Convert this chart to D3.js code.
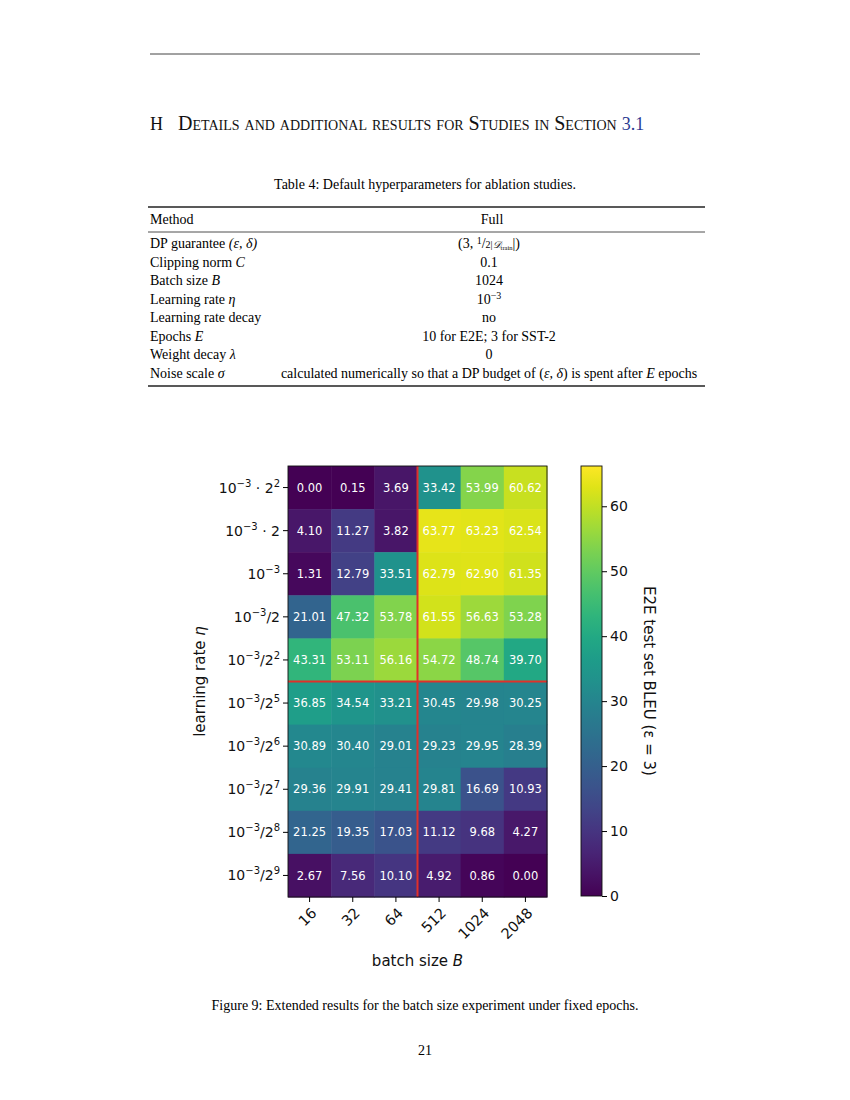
<!DOCTYPE html>
<html>
<head>
<meta charset="utf-8">
<script src="https://cdn.jsdelivr.net/npm/d3@7/dist/d3.min.js"></script>
<style>
  body { margin: 0; background: #fff; }
</style>
</head>
<body>
<script>
// ---- data ----
const batchSizes = ['16', '32', '64', '512', '1024', '2048'];
// learning rate labels: 10^-3 followed by op and an optional exponent
const lrLabels = [
    { op: ' · 2', exp: '2' },
    { op: ' · 2', exp: '' },
    { op: '', exp: '' },
    { op: '/2', exp: '' },
    { op: '/2', exp: '2' },
    { op: '/2', exp: '5' },
    { op: '/2', exp: '6' },
    { op: '/2', exp: '7' },
    { op: '/2', exp: '8' },
    { op: '/2', exp: '9' }
];
const bleu = [
    [0.00, 0.15, 3.69, 33.42, 53.99, 60.62],
    [4.10, 11.27, 3.82, 63.77, 63.23, 62.54],
    [1.31, 12.79, 33.51, 62.79, 62.90, 61.35],
    [21.01, 47.32, 53.78, 61.55, 56.63, 53.28],
    [43.31, 53.11, 56.16, 54.72, 48.74, 39.70],
    [36.85, 34.54, 33.21, 30.45, 29.98, 30.25],
    [30.89, 30.40, 29.01, 29.23, 29.95, 28.39],
    [29.36, 29.91, 29.41, 29.81, 16.69, 10.93],
    [21.25, 19.35, 17.03, 11.12, 9.68, 4.27],
    [2.67, 7.56, 10.10, 4.92, 0.86, 0.00]
];
const colorTicks = [0, 10, 20, 30, 40, 50, 60];

// table 4
const tableMethods = ['DP guarantee', 'Clipping norm', 'Batch size', 'Learning rate',
    'Learning rate decay', 'Epochs', 'Weight decay', 'Noise scale'];
const tableSymbols = ['(ε, δ)', 'C', 'B', 'η', '', 'E', 'λ', 'σ'];
const tableValues = ['dp', '0.1', '1024', 'lr', 'no', '10 for E2E; 3 for SST-2', '0', 'noise'];

function renderPage() {
    const width = 850, height = 1100;
    const serif = 'Liberation Serif, Times New Roman, serif';
    const sans = 'DejaVu Sans, sans-serif';

    const svg = d3.select('body').append('svg')
        .attr('width', width)
        .attr('height', height);

    // ==================== page header ====================
    svg.append('line')
        .attr('x1', 150).attr('x2', 700)
        .attr('y1', 54).attr('y2', 54)
        .attr('stroke', '#444').attr('stroke-width', 1);

    const head = svg.append('text')
        .attr('x', 150).attr('y', 130)
        .attr('font-family', serif).attr('font-size', 18)
        .attr('fill', '#111');
    head.append('tspan').text('H');
    head.append('tspan').attr('x', 178)
        .attr('font-size', 20)
        .style('font-variant', 'small-caps')
        .text('Details and additional results for Studies in Section ');
    head.append('tspan').attr('fill', '#2b3a91').text('3.1');

    svg.append('text')
        .attr('x', 425).attr('y', 189)
        .attr('text-anchor', 'middle')
        .attr('font-family', serif).attr('font-size', 14)
        .text('Table 4: Default hyperparameters for ablation studies.');

    // ==================== table ====================
    const tx0 = 148, tx1 = 705, valX = 489;
    svg.append('line').attr('x1', tx0).attr('x2', tx1).attr('y1', 207).attr('y2', 207)
        .attr('stroke', '#222').attr('stroke-width', 1.3);
    svg.append('line').attr('x1', tx0).attr('x2', tx1).attr('y1', 232).attr('y2', 232)
        .attr('stroke', '#222').attr('stroke-width', 0.8);
    svg.append('line').attr('x1', tx0).attr('x2', tx1).attr('y1', 386).attr('y2', 386)
        .attr('stroke', '#222').attr('stroke-width', 1.3);

    const tfont = 14;
    svg.append('text').attr('x', 150).attr('y', 224)
        .attr('font-family', serif).attr('font-size', tfont).text('Method');
    svg.append('text').attr('x', 492).attr('y', 224).attr('text-anchor', 'middle')
        .attr('font-family', serif).attr('font-size', tfont).text('Full');

    const rowY = d3.scaleLinear().domain([0, 7]).range([248, 378]);

    tableMethods.forEach((m, i) => {
        const t = svg.append('text').attr('x', 150).attr('y', rowY(i))
            .attr('font-family', serif).attr('font-size', tfont);
        t.append('tspan').text(m + (tableSymbols[i] ? ' ' : ''));
        if (tableSymbols[i]) t.append('tspan').attr('font-style', 'italic').text(tableSymbols[i]);

        const v = svg.append('text').attr('x', valX).attr('y', rowY(i))
            .attr('text-anchor', 'middle')
            .attr('font-family', serif).attr('font-size', tfont);
        const val = tableValues[i];
        if (val === 'dp') {
            v.append('tspan').text('(3, ');
            v.append('tspan').attr('font-size', 10).attr('dy', -4).text('1');
            v.append('tspan').attr('dy', 4).text('/');
            v.append('tspan').attr('font-size', 10).text('2|');
            v.append('tspan').attr('font-size', 10).attr('font-style', 'italic').text('𝒟');
            v.append('tspan').attr('font-size', 6.5).attr('dy', 2).text('train');
            v.append('tspan').attr('dy', -2).text('|)');
        } else if (val === 'lr') {
            v.append('tspan').text('10');
            v.append('tspan').attr('font-size', 10).attr('dy', -5).text('−3');
        } else if (val === 'noise') {
            v.append('tspan').text('calculated numerically so that a DP budget of (');
            v.append('tspan').attr('font-style', 'italic').text('ε, δ');
            v.append('tspan').text(') is spent after ');
            v.append('tspan').attr('font-style', 'italic').text('E');
            v.append('tspan').text(' epochs');
        } else {
            v.text(val);
        }
    });

    // ==================== heatmap ====================
    const hm = { left: 288, right: 547, top: 466, bottom: 897 };

    const x = d3.scaleBand().domain(batchSizes).range([hm.left, hm.right]);
    const y = d3.scaleBand().domain(d3.range(lrLabels.length)).range([hm.top, hm.bottom]);
    const vmax = 66.2;
    const color = d3.scaleSequential(d3.interpolateViridis).domain([0, vmax]);

    const cells = [];
    bleu.forEach((row, r) => row.forEach((v, c) => cells.push({ r, c, v })));

    svg.append('g').selectAll('rect')
        .data(cells).enter().append('rect')
        .attr('x', d => x(batchSizes[d.c]))
        .attr('y', d => y(d.r))
        .attr('width', x.bandwidth() + 0.5)
        .attr('height', y.bandwidth() + 0.5)
        .attr('fill', d => color(d.v));

    svg.append('g').selectAll('text')
        .data(cells).enter().append('text')
        .attr('x', d => x(batchSizes[d.c]) + x.bandwidth() / 2)
        .attr('y', d => y(d.r) + y.bandwidth() / 2)
        .attr('dy', '0.36em')
        .attr('text-anchor', 'middle')
        .attr('font-family', sans).attr('font-size', 11.5)
        .attr('fill', '#fff')
        .text(d => d.v.toFixed(2));

    // red separators
    const splitX = x('512');
    const splitY = y(5);
    svg.append('line').attr('x1', splitX).attr('x2', splitX)
        .attr('y1', hm.top).attr('y2', hm.bottom)
        .attr('stroke', '#e0302a').attr('stroke-width', 2);
    svg.append('line').attr('x1', hm.left).attr('x2', hm.right)
        .attr('y1', splitY).attr('y2', splitY)
        .attr('stroke', '#e0302a').attr('stroke-width', 2);

    svg.append('rect')
        .attr('x', hm.left).attr('y', hm.top)
        .attr('width', hm.right - hm.left).attr('height', hm.bottom - hm.top)
        .attr('fill', 'none').attr('stroke', '#111').attr('stroke-width', 0.9);

    // x axis
    const xAxis = svg.append('g')
        .attr('transform', `translate(0, ${hm.bottom})`)
        .call(d3.axisBottom(x).tickSize(5).tickPadding(3));
    xAxis.select('.domain').remove();
    xAxis.selectAll('text')
        .attr('font-family', sans).attr('font-size', 14.5).attr('fill', '#111')
        .attr('text-anchor', 'end')
        .attr('y', 0).attr('dy', 0)
        .attr('transform', 'translate(8, 17) rotate(-45)');

    // y axis
    const yAxis = svg.append('g')
        .attr('transform', `translate(${hm.left}, 0)`)
        .call(d3.axisLeft(y).tickSize(5).tickPadding(3).tickFormat(''));
    yAxis.select('.domain').remove();
    yAxis.selectAll('.tick').each(function (d) {
        const lab = lrLabels[d];
        const t = d3.select(this).append('text')
            .attr('x', -8).attr('dy', '0.36em')
            .attr('text-anchor', 'end')
            .attr('font-family', sans).attr('font-size', 14).attr('fill', '#111');
        t.append('tspan').text('10');
        t.append('tspan').attr('font-size', 10).attr('dy', -6).text('−3');
        t.append('tspan').attr('dy', 6).text(lab.op);
        if (lab.exp) t.append('tspan').attr('font-size', 10).attr('dy', -6).text(lab.exp);
    });

    svg.append('text')
        .attr('transform', `translate(205, ${(hm.top + hm.bottom) / 2}) rotate(-90)`)
        .attr('text-anchor', 'middle')
        .attr('font-family', sans).attr('font-size', 15).attr('fill', '#111')
        .text('learning rate ')
        .append('tspan').attr('font-style', 'italic').text('η');

    const xl = svg.append('text')
        .attr('x', (hm.left + hm.right) / 2).attr('y', 966)
        .attr('text-anchor', 'middle')
        .attr('font-family', sans).attr('font-size', 15).attr('fill', '#111');
    xl.append('tspan').text('batch size ');
    xl.append('tspan').attr('font-style', 'italic').text('B');

    // ==================== colorbar ====================
    const cb = { left: 581, right: 602, top: 466, bottom: 896 };
    const cbScale = d3.scaleLinear().domain([0, vmax]).range([cb.bottom, cb.top]);

    const grad = svg.append('defs').append('linearGradient')
        .attr('id', 'viridis').attr('x1', 0).attr('x2', 0).attr('y1', 1).attr('y2', 0);
    d3.range(0, 1.0001, 0.05).forEach(s => {
        grad.append('stop').attr('offset', s).attr('stop-color', d3.interpolateViridis(s));
    });
    svg.append('rect')
        .attr('x', cb.left).attr('y', cb.top)
        .attr('width', cb.right - cb.left).attr('height', cb.bottom - cb.top)
        .attr('fill', 'url(#viridis)')
        .attr('stroke', '#111').attr('stroke-width', 0.9);

    const cbAxis = svg.append('g')
        .attr('transform', `translate(${cb.right}, 0)`)
        .call(d3.axisRight(cbScale).tickValues(colorTicks).tickSize(5).tickPadding(3));
    cbAxis.select('.domain').remove();
    cbAxis.selectAll('text')
        .attr('font-family', sans).attr('font-size', 14).attr('fill', '#111');

    svg.append('text')
        .attr('transform', `translate(644, ${(cb.top + cb.bottom) / 2}) rotate(90)`)
        .attr('text-anchor', 'middle')
        .attr('font-family', sans).attr('font-size', 15).attr('fill', '#111')
        .text('E2E test set BLEU (ε = 3)');

    // ==================== caption and page number ====================
    svg.append('text')
        .attr('x', 425).attr('y', 1010)
        .attr('text-anchor', 'middle')
        .attr('font-family', serif).attr('font-size', 14)
        .text('Figure 9: Extended results for the batch size experiment under fixed epochs.');

    svg.append('text')
        .attr('x', 425).attr('y', 1055)
        .attr('text-anchor', 'middle')
        .attr('font-family', serif).attr('font-size', 14)
        .text('21');
}

window.addEventListener('load', function () {
    requestAnimationFrame(renderPage);
});
</script>
</body>
</html>
